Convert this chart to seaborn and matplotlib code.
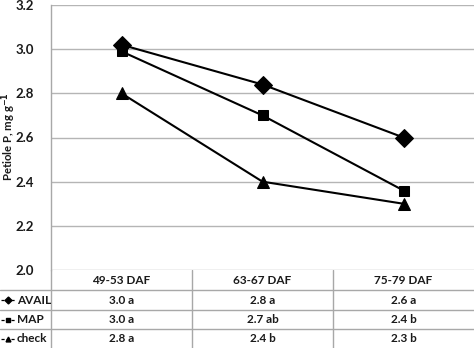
import matplotlib
matplotlib.use("Agg")
import matplotlib.pyplot as plt
import seaborn as sns
import pandas as pd

# Sampling periods (days after flowering)
periods = ["49-53 DAF", "63-67 DAF", "75-79 DAF"]

# Petiole P concentration (mg g-1) by fertilizer treatment
avail = [3.02, 2.84, 2.60]
map_ = [2.99, 2.70, 2.36]
check = [2.80, 2.40, 2.30]

# Mean separation letters shown in the data table
avail_letters = ["a", "a", "a"]
map_letters = ["a", "ab", "b"]
check_letters = ["a", "b", "b"]

treatments = ["AVAIL", "MAP", "check"]
series = [avail, map_, check]
letters = [avail_letters, map_letters, check_letters]
markers = {"AVAIL": "D", "MAP": "s", "check": "^"}
marker_sizes = {"AVAIL": 9, "MAP": 6.8, "check": 8.5}

df = pd.DataFrame(
    [(t, p, v) for t, vals in zip(treatments, series) for p, v in zip(periods, vals)],
    columns=["treatment", "period", "value"],
)

sns.set_theme(style="white")
plt.rcParams["font.family"] = ["Lato", "DejaVu Sans"]
plt.rcParams["font.weight"] = "bold"

W, H = 474, 348
fig = plt.figure(figsize=(W / 100, H / 100), dpi=100)

left, right, top, bottom = 51, 474, 5, 270
ax = fig.add_axes([left / W, 1 - bottom / H, (right - left) / W, (bottom - top) / H])

sns.lineplot(
    data=df, x="period", y="value", style="treatment",
    markers=markers, dashes=False, color="black", linewidth=1.5,
    markersize=8, markeredgecolor="black", legend=False, ax=ax, sort=False,
)
for line, t in zip(ax.lines, treatments):
    line.set_markersize(marker_sizes[t])

ax.set_xlim(-0.5, 2.5)
ax.set_ylim(2.0, 3.2)
ax.set_yticks([2.0, 2.2, 2.4, 2.6, 2.8, 3.0, 3.2])
ax.set_yticklabels([f"{t:.1f}" for t in ax.get_yticks()], fontsize=9.5, fontweight="bold", color="#1a1a1a")
ax.set_xticks([])
ax.set_xlabel("")
ax.set_ylabel("")
ax.tick_params(axis="y", length=0, pad=12)
ax.yaxis.grid(True, color="#b5b5b5", linewidth=1.0)
ax.set_axisbelow(True)
for s in ["top", "right", "bottom"]:
    ax.spines[s].set_visible(False)
ax.spines["left"].set_color("#a8a8a8")
ax.spines["left"].set_linewidth(1.0)
fig.text(8.5 / W, 1 - 137 / H, "Petiole P, mg g$^{\\mathbf{-1}}$", rotation=90,
         ha="center", va="center", fontsize=8.2, fontweight="bold", color="#1a1a1a")

# Data table below the plot area, in pixel coordinates
tab = fig.add_axes([0, 0, 1, 1], zorder=-1)
tab.set_xlim(0, W)
tab.set_ylim(H, 0)
tab.axis("off")

grid_c = "#a8a8a8"
rows_y = [290, 310, 329]
for y in rows_y:
    tab.plot([0, W], [y, y], color=grid_c, linewidth=1.0)
tab.plot([left, left], [bottom, H], color=grid_c, linewidth=1.0)
col_w = (right - left) / 3
for i in (1, 2):
    x = left + i * col_w
    tab.plot([x, x], [bottom, H], color=grid_c, linewidth=1.0)

centers = [left + (i + 0.5) * col_w for i in range(3)]
for c, p in zip(centers, periods):
    tab.text(c, 280.5, p, ha="center", va="center", fontsize=8.5, fontweight="bold", color="#1a1a1a")

row_mid = [300, 319.5, 338.5]
for y, t, vals, lets in zip(row_mid, treatments, series, letters):
    tab.plot([1, 15], [y, y], color="black", linewidth=0.9, linestyle=(0, (2.5, 1.5)))
    tab.plot([8], [y], marker=markers[t], color="black", markersize=3.5)
    tab.text(17, y, t, ha="left", va="center", fontsize=8.5, fontweight="bold", color="#1a1a1a")
    for c, v, l in zip(centers, vals, lets):
        tab.text(c, y, f"{v:.1f} {l}", ha="center", va="center", fontsize=8.5, fontweight="bold", color="#1a1a1a")

fig.savefig("out.png", dpi=100)
